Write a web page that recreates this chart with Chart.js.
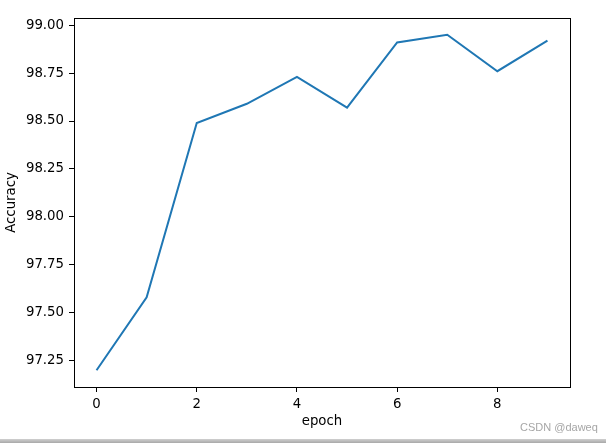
<!DOCTYPE html>
<html>
<head>
<meta charset="utf-8">
<script src="https://cdn.jsdelivr.net/npm/chart.js@4"></script>
<style>
  html, body { margin: 0; padding: 0; background: #fff; }
  #wrap { position: relative; width: 606px; height: 443px; overflow: hidden; }
  #c { position: absolute; left: 0; top: 0; }
  #wm { position: absolute; left: 520px; top: 421px; font: 11px "Liberation Sans", Arial, sans-serif; color: #a6a6a6; white-space: nowrap; }
  #bar { position: absolute; left: 0; top: 439px; width: 606px; height: 4px; background: linear-gradient(#d0d0d0, #a8a8a8); }
</style>
</head>
<body>
<div id="wrap">
  <canvas id="c" width="606" height="443"></canvas>
  <div id="wm">CSDN @daweq</div>
  <div id="bar"></div>
</div>
<script>
const epochs = [0, 1, 2, 3, 4, 5, 6, 7, 8, 9];
const accuracy = [97.20, 97.58, 98.49, 98.59, 98.73, 98.57, 98.91, 98.95, 98.76, 98.92];
const xTicks = [0, 2, 4, 6, 8];
const yTicks = [97.25, 97.50, 97.75, 98.00, 98.25, 98.50, 98.75, 99.00];

const yMinData = Math.min(...accuracy), yMaxData = Math.max(...accuracy);
const yPad = (yMaxData - yMinData) * 0.05;
const xPad = (epochs[epochs.length - 1] - epochs[0]) * 0.05;

const font = { family: "'DejaVu Sans', sans-serif", size: 13.3 };

const frame = {
  id: 'frame',
  afterDraw(chart) {
    const { ctx, chartArea: a } = chart;
    ctx.save();
    ctx.strokeStyle = '#000';
    ctx.lineWidth = 1;
    ctx.strokeRect(Math.round(a.left) + 0.5, Math.round(a.top) + 0.5, Math.round(a.right - a.left), Math.round(a.bottom - a.top));
    ctx.restore();
  }
};

new Chart(document.getElementById('c'), {
  type: 'line',
  data: {
    datasets: [{
      data: epochs.map((e, i) => ({ x: e, y: accuracy[i] })),
      borderColor: '#1f77b4',
      borderWidth: 2,
      pointRadius: 0,
      tension: 0,
      fill: false
    }]
  },
  options: {
    responsive: false,
    animation: false,
    devicePixelRatio: 1,
    layout: { padding: { left: 0, right: 36, top: 18, bottom: 0 } },
    plugins: { legend: { display: false }, tooltip: { enabled: false } },
    scales: {
      x: {
        type: 'linear',
        min: epochs[0] - xPad,
        max: epochs[epochs.length - 1] + xPad,
        afterBuildTicks(s) { s.ticks = xTicks.map(v => ({ value: v })); },
        afterFit(s) { s.height = 56; },
        grid: { drawOnChartArea: false, drawTicks: true, tickLength: 5, color: '#000' },
        border: { display: true, color: '#000', width: 1 },
        ticks: { color: '#000', font, padding: 5, maxRotation: 0, callback: v => String(v) },
        title: { display: true, text: 'epoch', color: '#000', font, padding: { top: 0, bottom: 13 } }
      },
      y: {
        type: 'linear',
        min: yMinData - yPad,
        max: yMaxData + yPad,
        afterBuildTicks(s) { s.ticks = yTicks.map(v => ({ value: v })); },
        afterFit(s) { s.width = 74; },
        grid: { drawOnChartArea: false, drawTicks: true, tickLength: 5, color: '#000' },
        border: { display: true, color: '#000', width: 1 },
        ticks: { color: '#000', font, padding: 5, callback: v => v.toFixed(2) },
        title: { display: true, text: 'Accuracy', color: '#000', font, padding: { top: 4, bottom: 0 } }
      }
    }
  },
  plugins: [frame]
});
</script>
</body>
</html>
